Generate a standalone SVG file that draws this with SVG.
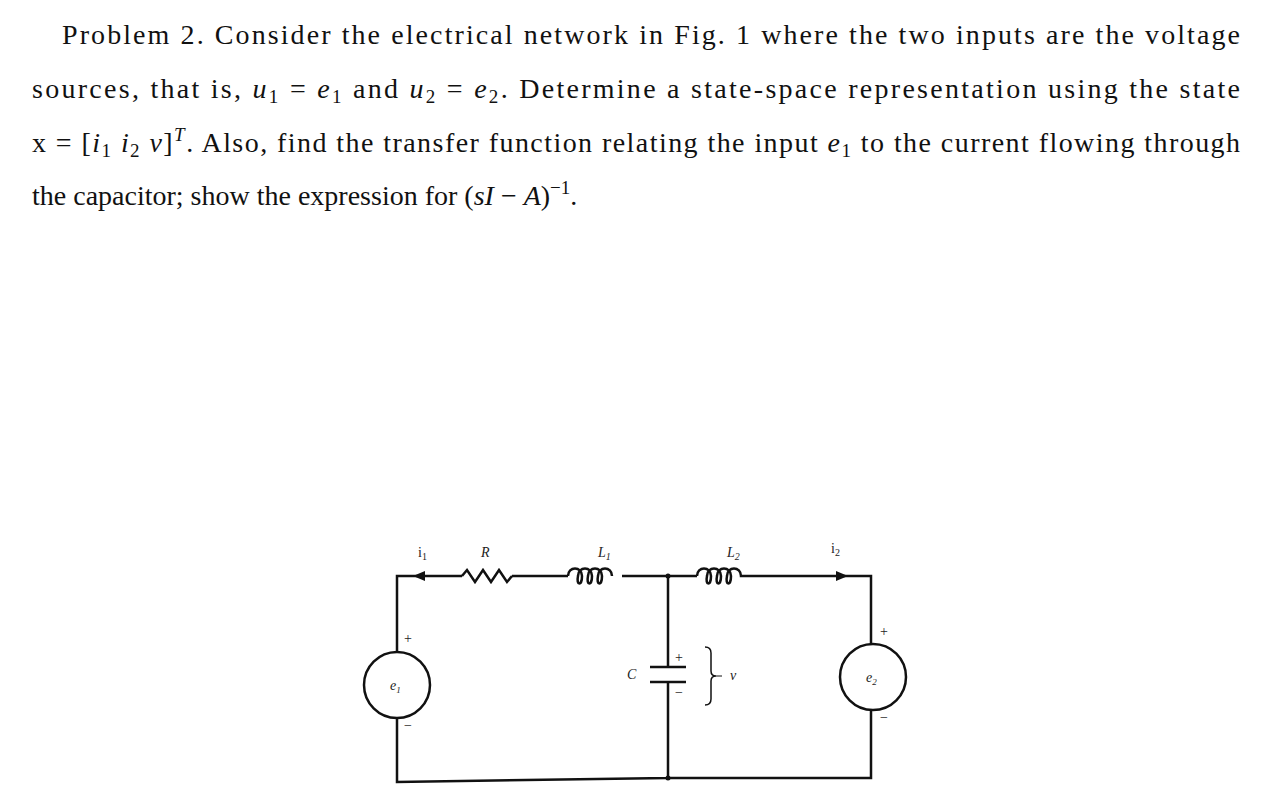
<svg xmlns="http://www.w3.org/2000/svg" width="1271" height="809" viewBox="0 0 1271 809">
<style>
.t{font-family:"Liberation Serif",serif;font-size:28px;fill:#111}
.i{font-style:italic}
.s{font-size:19px}
.w{fill:none;stroke:#111;stroke-width:2.5}
.l{font-family:"Liberation Serif",serif;font-size:14px;fill:#222}
</style>
<rect width="1271" height="809" fill="#fff"/>
<g id="text">
<text class="t" x="62" y="44" textLength="1178" lengthAdjust="spacing">Problem 2. Consider the electrical network in Fig. 1 where the two inputs are the voltage</text>
<text class="t" x="32" y="98" textLength="1208" lengthAdjust="spacing">sources, that is, <tspan class="i">u</tspan><tspan class="s" dy="5">1</tspan><tspan dy="-5"> = </tspan><tspan class="i">e</tspan><tspan class="s" dy="5">1</tspan><tspan dy="-5"> and </tspan><tspan class="i">u</tspan><tspan class="s" dy="5">2</tspan><tspan dy="-5"> = </tspan><tspan class="i">e</tspan><tspan class="s" dy="5">2</tspan><tspan dy="-5">. Determine a state-space representation using the state</tspan></text>
<text class="t" x="32" y="152" textLength="1208" lengthAdjust="spacing">x = [<tspan class="i">i</tspan><tspan class="s" dy="5">1</tspan><tspan class="i" dy="-5"> i</tspan><tspan class="s" dy="5">2</tspan><tspan class="i" dy="-5"> v</tspan>]<tspan class="s i" dy="-11">T</tspan><tspan dy="11">. Also, find the transfer function relating the input </tspan><tspan class="i">e</tspan><tspan class="s" dy="5">1</tspan><tspan dy="-5"> to the current flowing through</tspan></text>
<text class="t" x="32" y="205">the capacitor; show the expression for (<tspan class="i">sI</tspan> − <tspan class="i">A</tspan>)<tspan class="s" dy="-11">−1</tspan><tspan dy="11">.</tspan></text>
</g>
<g id="connectors">
<path class="w" d="M397,652 V576 H462 M512,576 H568 M622,576 H697 M757,576 H871 V644 M871,710 V778 H668 M397,718 V782 L668,778 M668,576 V667 M668,682 V778"/>
<path d="M413,576 l12,-5 v10 z M848,576 l-12,-5 v10 z" fill="#111"/>
<circle cx="668" cy="576" r="2.5" fill="#111"/><circle cx="668" cy="778" r="2.5" fill="#111"/>
</g>
<g id="R"><path class="w" d="M462,576 l5,-6 l8,12 l8,-12 l8,12 l8,-12 l8,12 l5,-6"/><text class="l i" x="481" y="557">R</text></g>
<g id="L1"><path class="w" d="M568,576 c0,-10 14,-10 14,0 c0,10 -6,10 -4,0 c0,-10 14,-10 14,0 c0,10 -6,10 -4,0 c0,-10 14,-10 14,0 c0,10 -6,10 -4,0 c0,-10 14,-10 14,0"/><text class="l i" x="598" y="557">L<tspan font-size="10" dy="3">1</tspan></text></g>
<g id="L2"><path class="w" d="M697,576 c0,-10 14,-10 14,0 c0,10 -6,10 -4,0 c0,-10 14,-10 14,0 c0,10 -6,10 -4,0 c0,-10 14,-10 14,0 c0,10 -6,10 -4,0 c0,-10 14,-10 14,0 H757"/><text class="l i" x="727" y="557">L<tspan font-size="10" dy="3">2</tspan></text></g>
<g id="C"><path class="w" d="M650,667 H686 M650,682 H686"/><text class="l i" x="627" y="679">C</text><text class="l" x="675" y="662" font-size="10">+</text><text class="l" x="675" y="697" font-size="10">−</text>
<path d="M705,647 q6,0 6,6 v18 q0,5 5,5 q-5,0 -5,5 v18 q0,6 -6,6" fill="none" stroke="#111" stroke-width="1.5"/><path d="M716,676 h6" stroke="#111"/><text class="l i" x="730" y="680" font-size="12">v</text></g>
<g id="e1"><circle class="w" cx="397" cy="685" r="33"/><text class="l i" x="390" y="690">e<tspan font-size="9" dy="3">1</tspan></text><text class="l" x="404" y="643" font-size="10">+</text><text class="l" x="404" y="730" font-size="10">−</text><text class="l" x="418" y="557">i<tspan font-size="10" dy="3">1</tspan></text></g>
<g id="e2"><circle class="w" cx="873" cy="677" r="33"/><text class="l i" x="866" y="682">e<tspan font-size="9" dy="3">2</tspan></text><text class="l" x="880" y="636" font-size="10">+</text><text class="l" x="880" y="722" font-size="10">−</text><text class="l" x="831" y="553">i<tspan font-size="10" dy="3">2</tspan></text></g>
</svg>
